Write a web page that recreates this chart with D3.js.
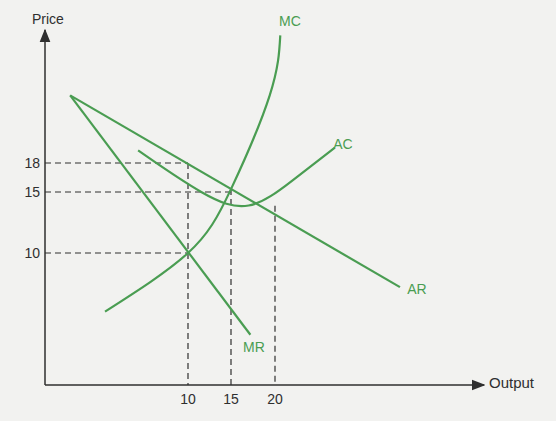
<!DOCTYPE html>
<html><head><meta charset="utf-8">
<script src="https://cdn.jsdelivr.net/npm/d3@7"></script>
<style>body{margin:0;background:#f2f2f0}text{font-family:"Liberation Sans",Arial,sans-serif}</style>
</head><body><svg id="c" width="556" height="421"></svg>
<script>
// data (output, price)
const xTicks=[10,15,20], yTicks=[10,15,18];
const arPts=[[-3.7,25],[34.2,7.2]];
const mrPts=[[-3.7,25],[17.2,3.3]];
const mcPts=[[0.35,5.2],[10,10],[15,15.3],[19.4,25],[20.6,31.2]];
const acPts=[[4.2,19.3],[4.2,19.3],[12,14.6],[17,13.2],[22,16.2],[26.8,19.6],[26.8,19.6]];
const dashes=[{x:10,y:18},{x:15,y:15},{x:10,y:10}];

const svg=d3.select('#c'), G='#4a9d52', ink='#2f2f2f';
const x=d3.scaleLinear().domain([10,15,20]).range([188,231,275]);
const y=d3.scaleLinear().domain([10,15,18]).range([253,192,163]);
const X0=45, Y0=385;
const line=d3.line().x(d=>x(d[0])).y(d=>y(d[1]));
const mcLine=d3.line().curve(d3.curveNatural).x(d=>x(d[0])).y(d=>y(d[1]));
const acLine=d3.line().curve(d3.curveBasis).x(d=>x(d[0])).y(d=>y(d[1]));

svg.append('defs').append('marker').attr('id','ar').attr('viewBox','0 0 10 10').attr('refX',9).attr('refY',5)
  .attr('markerWidth',9).attr('markerHeight',9).attr('orient','auto')
  .append('path').attr('d','M0,1L10,5L0,9z').attr('fill',ink);

// axes
svg.append('line').attr('x1',X0).attr('y1',Y0).attr('x2',X0).attr('y2',30).attr('stroke',ink).attr('stroke-width',1.5).attr('marker-end','url(#ar)');
svg.append('line').attr('x1',X0).attr('y1',Y0).attr('x2',484).attr('y2',Y0).attr('stroke',ink).attr('stroke-width',1.5).attr('marker-end','url(#ar)');
svg.append('text').attr('x',32).attr('y',24).attr('font-size',14).attr('fill',ink).text('Price');
svg.append('text').attr('x',489).attr('y',388).attr('font-size',15).attr('fill',ink).text('Output');
xTicks.forEach(t=>svg.append('text').attr('x',x(t)).attr('y',404).attr('text-anchor','middle').attr('font-size',14).attr('fill',ink).text(t));
yTicks.forEach(t=>svg.append('text').attr('x',40).attr('y',y(t)+5).attr('text-anchor','end').attr('font-size',14).attr('fill',ink).text(t));

// dashed guides
const ds=g=>g.attr('stroke',ink).attr('stroke-width',1.2).attr('stroke-dasharray','6,4');
dashes.forEach(d=>{
  ds(svg.append('line').attr('x1',X0).attr('x2',x(d.x)).attr('y1',y(d.y)).attr('y2',y(d.y)));
});
ds(svg.append('line').attr('x1',x(10)).attr('x2',x(10)).attr('y1',y(18)).attr('y2',Y0));
ds(svg.append('line').attr('x1',x(15)).attr('x2',x(15)).attr('y1',y(15.3)).attr('y2',Y0));
const arAt20=arPts[0][1]+(arPts[1][1]-arPts[0][1])*(20-arPts[0][0])/(arPts[1][0]-arPts[0][0]);
ds(svg.append('line').attr('x1',x(20)).attr('x2',x(20)).attr('y1',y(arAt20)).attr('y2',Y0));

// curves
[[arPts,line],[mrPts,line],[mcPts,mcLine],[acPts,acLine]].forEach(([p,f])=>
  svg.append('path').attr('d',f(p)).attr('fill','none').attr('stroke',G).attr('stroke-width',2.2));

const labs=[['MC',290,26],['AC',343,149],['AR',417,294],['MR',254,352]];
labs.forEach(l=>svg.append('text').attr('x',l[1]).attr('y',l[2]).attr('text-anchor','middle').attr('font-size',14).attr('fill',G).text(l[0]));
</script></body></html>
